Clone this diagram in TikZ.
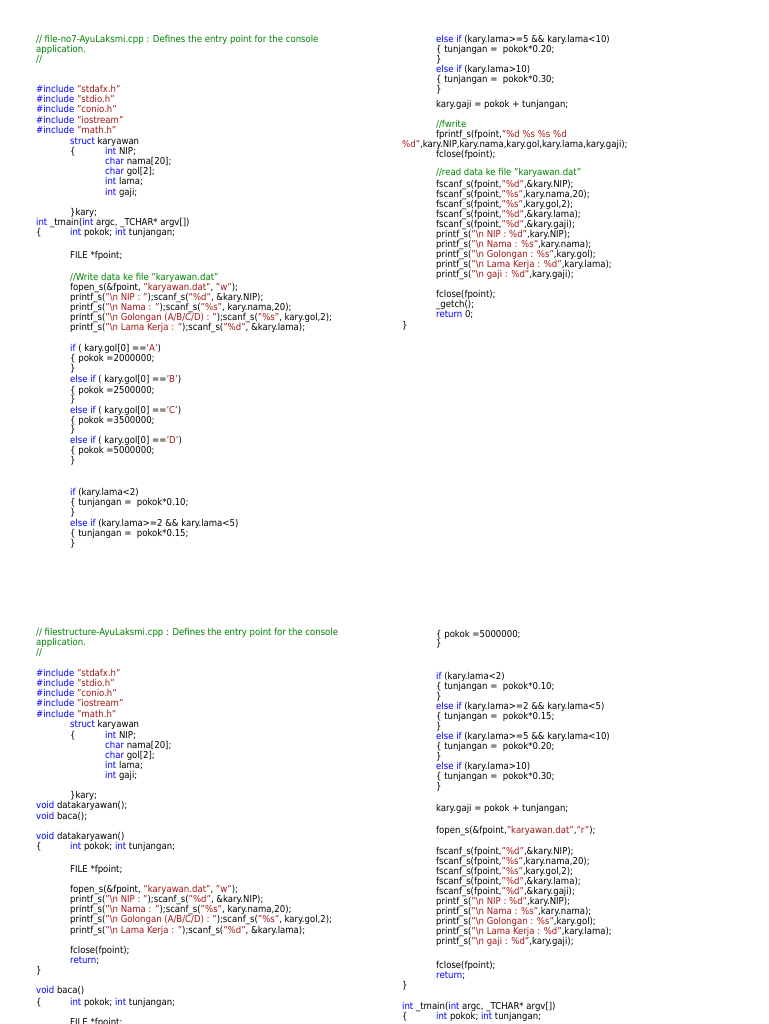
\documentclass[tikz,border=0pt]{standalone}
\usepackage{fontspec}
\setmainfont{DejaVu Sans Condensed}[Ligatures=ResetAll]
\definecolor{kwc}{RGB}{0,0,255}
\definecolor{stc}{RGB}{163,21,21}
\definecolor{cmc}{RGB}{0,128,0}
\newcommand\kw[1]{\textcolor{kwc}{#1}}
\newcommand\st[1]{\textcolor{stc}{#1}}
\newcommand\cmt[1]{\textcolor{cmc}{#1}}
\newcommand\q{\symbol{39}}
\newcommand\bs{\symbol{92}}
\newcounter{lnc}
\newcommand\cl[3]{\stepcounter{lnc}\node[codeline] (l\arabic{lnc}) at (#1,-#2) {#3};}
\begin{document}
\begin{tikzpicture}[x=1pt,y=1pt,
  codeline/.style={anchor=west,inner sep=0pt,text height=6.5pt,text depth=2pt,font=\fontsize{9.5}{10}\selectfont}]
\clip (0,0) rectangle (768,-1024);
\fill[white] (0,0) rectangle (768,-1024);
% ---------- top left ----------
\cl{36}{40}{\cmt{// file-no7-AyuLaksmi.cpp : Defines the entry point for the console}}
\cl{36}{50}{\cmt{application.}}
\cl{36}{60}{\cmt{//}}
\cl{36}{90}{\kw{\#include} \st{"stdafx.h"}}
\cl{36}{100}{\kw{\#include} \st{"stdio.h"}}
\cl{36}{110}{\kw{\#include} \st{"conio.h"}}
\cl{36}{121}{\kw{\#include} \st{"iostream"}}
\cl{36}{131}{\kw{\#include} \st{"math.h"}}
\cl{70}{142}{\kw{struct} karyawan}
\cl{70}{152}{\{}
\cl{105}{152}{\kw{int} NIP;}
\cl{105}{162}{\kw{char} nama[20];}
\cl{105}{172}{\kw{char} gol[2];}
\cl{105}{182}{\kw{int} lama;}
\cl{105}{193}{\kw{int} gaji;}
\cl{70}{213}{\}kary;}
\cl{36}{223}{\kw{int} \_tmain(\kw{int} argc, \_TCHAR* argv[])}
\cl{36}{233}{\{}
\cl{70}{233}{\kw{int} pokok; \kw{int} tunjangan;}
\cl{70}{256}{FILE *fpoint;}
\cl{70}{278}{\cmt{//Write data ke file "karyawan.dat"}}
\cl{70}{288}{fopen\_s(\&fpoint, \st{"karyawan.dat"}, \st{"w"});}
\cl{70}{298}{printf\_s(\st{"\bs n NIP : "});scanf\_s(\st{"\%d"}, \&kary.NIP);}
\cl{70}{308}{printf\_s(\st{"\bs n Nama : "});scanf\_s(\st{"\%s"}, kary.nama,20);}
\cl{70}{318}{printf\_s(\st{"\bs n Golongan (A/B/C/D) : "});scanf\_s(\st{"\%s"}, kary.gol,2);}
\cl{70}{328}{printf\_s(\st{"\bs n Lama Kerja : "});scanf\_s(\st{"\%d"}, \&kary.lama);}
\cl{70}{349}{\kw{if} ( kary.gol[0] ==\st{\q A\q})}
\cl{70}{359}{\{ pokok =2000000;}
\cl{70}{369}{\}}
\cl{70}{380}{\kw{else} \kw{if} ( kary.gol[0] ==\st{\q B\q})}
\cl{70}{391}{\{ pokok =2500000;}
\cl{70}{400}{\}}
\cl{70}{411}{\kw{else} \kw{if} ( kary.gol[0] ==\st{\q C\q})}
\cl{70}{421}{\{ pokok =3500000;}
\cl{70}{430}{\}}
\cl{70}{441}{\kw{else} \kw{if} ( kary.gol[0] ==\st{\q D\q})}
\cl{70}{451}{\{ pokok =5000000;}
\cl{70}{461}{\}}
\cl{70}{493}{\kw{if} (kary.lama<2)}
\cl{70}{503}{\{ tunjangan = \ pokok*0.10;}
\cl{70}{513}{\}}
\cl{70}{524}{\kw{else} \kw{if} (kary.lama>=2 \&\& kary.lama<5)}
\cl{70}{534}{\{ tunjangan = \ pokok*0.15;}
\cl{70}{544}{\}}
% ---------- top right ----------
\cl{436}{40}{\kw{else} \kw{if} (kary.lama>=5 \&\& kary.lama<10)}
\cl{436}{50}{\{ tunjangan = \ pokok*0.20;}
\cl{436}{60}{\}}
\cl{436}{70}{\kw{else} \kw{if} (kary.lama>10)}
\cl{436}{80}{\{ tunjangan = \ pokok*0.30;}
\cl{436}{90}{\}}
\cl{436}{105}{kary.gaji = pokok + tunjangan;}
\cl{436}{125}{\cmt{//fwrite}}
\cl{436}{135}{fprintf\_s(fpoint,\st{"\%d \%s \%s \%d}}
\cl{402}{145}{\st{\%d"},kary.NIP,kary.nama,kary.gol,kary.lama,kary.gaji);}
\cl{436}{155}{fclose(fpoint);}
\cl{436}{173}{\cmt{//read data ke file "karyawan.dat"}}
\cl{436}{185}{fscanf\_s(fpoint,\st{"\%d"},\&kary.NIP);}
\cl{436}{195}{fscanf\_s(fpoint,\st{"\%s"},kary.nama,20);}
\cl{436}{205}{fscanf\_s(fpoint,\st{"\%s"},kary.gol,2);}
\cl{436}{215}{fscanf\_s(fpoint,\st{"\%d"},\&kary.lama);}
\cl{436}{225}{fscanf\_s(fpoint,\st{"\%d"},\&kary.gaji);}
\cl{436}{235}{printf\_s(\st{"\bs n NIP : \%d"},kary.NIP);}
\cl{436}{245}{printf\_s(\st{"\bs n Nama : \%s"},kary.nama);}
\cl{436}{255}{printf\_s(\st{"\bs n Golongan : \%s"},kary.gol);}
\cl{436}{265}{printf\_s(\st{"\bs n Lama Kerja : \%d"},kary.lama);}
\cl{436}{275}{printf\_s(\st{"\bs n gaji : \%d"},kary.gaji);}
\cl{436}{295}{fclose(fpoint);}
\cl{436}{305}{\_getch();}
\cl{436}{315}{\kw{return} 0;}
\cl{402}{326}{\}}
% ---------- bottom left ----------
\cl{36}{633}{\cmt{// filestructure-AyuLaksmi.cpp : Defines the entry point for the console}}
\cl{36}{643}{\cmt{application.}}
\cl{36}{653}{\cmt{//}}
\cl{36}{674}{\kw{\#include} \st{"stdafx.h"}}
\cl{36}{684}{\kw{\#include} \st{"stdio.h"}}
\cl{36}{694}{\kw{\#include} \st{"conio.h"}}
\cl{36}{704}{\kw{\#include} \st{"iostream"}}
\cl{36}{715}{\kw{\#include} \st{"math.h"}}
\cl{70}{725}{\kw{struct} karyawan}
\cl{70}{736}{\{}
\cl{105}{736}{\kw{int} NIP;}
\cl{105}{746}{\kw{char} nama[20];}
\cl{105}{756}{\kw{char} gol[2];}
\cl{105}{766}{\kw{int} lama;}
\cl{105}{776}{\kw{int} gaji;}
\cl{70}{796}{\}kary;}
\cl{36}{806}{\kw{void} datakaryawan();}
\cl{36}{817}{\kw{void} baca();}
\cl{36}{837}{\kw{void} datakaryawan()}
\cl{36}{847}{\{}
\cl{70}{847}{\kw{int} pokok; \kw{int} tunjangan;}
\cl{70}{870}{FILE *fpoint;}
\cl{70}{890}{fopen\_s(\&fpoint, \st{"karyawan.dat"}, \st{"w"});}
\cl{70}{900}{printf\_s(\st{"\bs n NIP : "});scanf\_s(\st{"\%d"}, \&kary.NIP);}
\cl{70}{910}{printf\_s(\st{"\bs n Nama : "});scanf\_s(\st{"\%s"}, kary.nama,20);}
\cl{70}{920}{printf\_s(\st{"\bs n Golongan (A/B/C/D) : "});scanf\_s(\st{"\%s"}, kary.gol,2);}
\cl{70}{931}{printf\_s(\st{"\bs n Lama Kerja : "});scanf\_s(\st{"\%d"}, \&kary.lama);}
\cl{70}{951}{fclose(fpoint);}
\cl{70}{961}{\kw{return};}
\cl{36}{971}{\}}
\cl{36}{991}{\kw{void} baca()}
\cl{36}{1003}{\{}
\cl{70}{1003}{\kw{int} pokok; \kw{int} tunjangan;}
\cl{70}{1023}{FILE *fpoint;}
% ---------- bottom right ----------
\cl{436}{635}{\{ pokok =5000000;}
\cl{436}{644}{\}}
\cl{436}{677}{\kw{if} (kary.lama<2)}
\cl{436}{687}{\{ tunjangan = \ pokok*0.10;}
\cl{436}{697}{\}}
\cl{436}{707}{\kw{else} \kw{if} (kary.lama>=2 \&\& kary.lama<5)}
\cl{436}{717}{\{ tunjangan = \ pokok*0.15;}
\cl{436}{727}{\}}
\cl{436}{737}{\kw{else} \kw{if} (kary.lama>=5 \&\& kary.lama<10)}
\cl{436}{747}{\{ tunjangan = \ pokok*0.20;}
\cl{436}{757}{\}}
\cl{436}{767}{\kw{else} \kw{if} (kary.lama>10)}
\cl{436}{777}{\{ tunjangan = \ pokok*0.30;}
\cl{436}{787}{\}}
\cl{436}{809}{kary.gaji = pokok + tunjangan;}
\cl{436}{831}{fopen\_s(\&fpoint,\st{"karyawan.dat"},\st{"r"});}
\cl{436}{852}{fscanf\_s(fpoint,\st{"\%d"},\&kary.NIP);}
\cl{436}{862}{fscanf\_s(fpoint,\st{"\%s"},kary.nama,20);}
\cl{436}{872}{fscanf\_s(fpoint,\st{"\%s"},kary.gol,2);}
\cl{436}{882}{fscanf\_s(fpoint,\st{"\%d"},\&kary.lama);}
\cl{436}{892}{fscanf\_s(fpoint,\st{"\%d"},\&kary.gaji);}
\cl{436}{902}{printf\_s(\st{"\bs n NIP : \%d"},kary.NIP);}
\cl{436}{912}{printf\_s(\st{"\bs n Nama : \%s"},kary.nama);}
\cl{436}{922}{printf\_s(\st{"\bs n Golongan : \%s"},kary.gol);}
\cl{436}{932}{printf\_s(\st{"\bs n Lama Kerja : \%d"},kary.lama);}
\cl{436}{942}{printf\_s(\st{"\bs n gaji : \%d"},kary.gaji);}
\cl{436}{966}{fclose(fpoint);}
\cl{436}{976}{\kw{return};}
\cl{402}{986}{\}}
\cl{402}{1007}{\kw{int} \_tmain(\kw{int} argc, \_TCHAR* argv[])}
\cl{402}{1017}{\{}
\cl{436}{1017}{\kw{int} pokok; \kw{int} tunjangan;}
\end{tikzpicture}
\end{document}
